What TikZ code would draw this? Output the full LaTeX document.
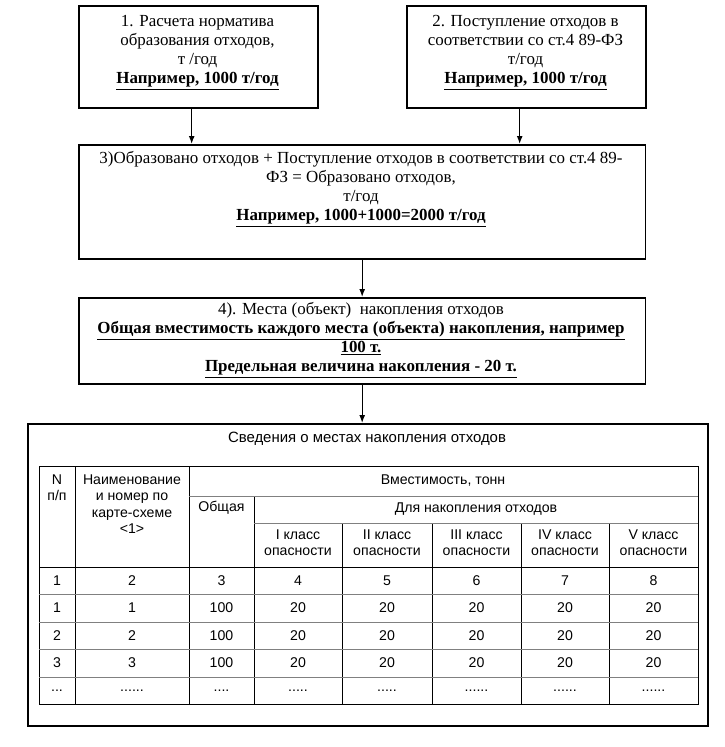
\documentclass[tikz,border=0pt]{standalone}
\usepackage{fontspec}
\setmainfont{Liberation Serif}
\newfontfamily\arialfont{Liberation Sans}
\usetikzlibrary{arrows.meta}

\begin{document}
\begin{tikzpicture}[x=0.75pt, y=-0.75pt,
	box/.style={draw, line width=1.3pt, anchor=north west, inner sep=0pt},
	txt/.style={align=center, inner sep=0pt, font=\fontsize{12.7}{14.25}\selectfont},
	cell/.style={align=center, inner sep=0pt, font=\arialfont\fontsize{10.6}{12.2}\selectfont},
	arr/.style={line width=1pt, -{Latex[length=6pt,width=4.5pt]}}]
	\useasboundingbox (0,0) rectangle (725,747);
	% boxes
	\node[box, minimum width=179.25pt, minimum height=76.5pt] (b1) at (78,5) {};
	\node[box, minimum width=179.25pt, minimum height=76.5pt] (b2) at (406,5) {};
	\node[box, minimum width=425pt, minimum height=85.5pt] (b3) at (78,144) {};
	\node[box, minimum width=425pt, minimum height=64.5pt] (b4) at (78,297) {};
	\node[box, line width=1.2pt, minimum width=510pt, minimum height=226.5pt] (tab) at (27,423) {};
	\node[txt] (t1) at (197.5,53) {1. Расчета норматива\\образования отходов,\\т /год\\\underline{\textbf{Например, 1000 т/год}}};
	\node[txt] (t2) at (525.5,53) {2. Поступление отходов в\\соответствии со ст.4 89-ФЗ\\т/год\\\underline{\textbf{Например, 1000 т/год}}};
	\node[txt] (t3) at (361,189) {3)Образовано отходов + Поступление отходов в соответствии со ст.4 89-\\ФЗ = Образовано отходов,\\т/год\\\underline{\textbf{Например, 1000+1000=2000 т/год}}};
	\node[txt] (t4) at (361,340) {4). Места (объект)\ \ накопления отходов\\\underline{\textbf{Общая вместимость каждого места (объекта) накопления, например}}\\\underline{\textbf{100 т.}}\\\underline{\textbf{Предельная величина накопления - 20 т.}}};
	% arrows
	\draw[arr] ([xshift=-5pt]b1.south) -- ([xshift=-5pt]b1.south |- b3.north);
	\draw[arr] ([xshift=-5pt]b2.south) -- ([xshift=-5pt]b2.south |- b3.north);
	\draw[arr] (b3.south) -- (b4.north);
	\draw[arr] (b4.south) -- (b4.south |- tab.north);
	% table
	\node[cell, font=\arialfont\fontsize{11.2}{12}\selectfont] (title) at (367,439) {Сведения о местах накопления отходов};
	\draw[line width=0.7pt] (39,466) rectangle (698,704);
	\foreach \x in {75,189} \draw[line width=0.6pt] (\x,466) -- (\x,704);
	\draw[line width=0.6pt] (254,496) -- (254,704);
	\foreach \x in {342,432,521,609} \draw[line width=0.6pt] (\x,523) -- (\x,704);
	\draw[gray, line width=0.6pt] (189,496) -- (698,496);
	\draw[gray, line width=0.6pt] (254,523) -- (698,523);
	\draw[line width=0.7pt] (39,567) -- (698,567);
	\foreach \y in {594,622,649,677} \draw[gray, line width=0.6pt] (39,\y) -- (698,\y);
	\node[cell] (hnum) at (57,488) {N\\п/п};
	\node[cell] (hname) at (132,504) {Наименование\\и номер по\\карте-схеме\\<1>};
	\node[cell] (hcap) at (443,481) {Вместимость, тонн};
	\node[cell] (htot) at (221.5,508) {Общая};
	\node[cell] (hacc) at (476,509) {Для накопления отходов};
	\foreach \x/\k in {298/I,387/II,476.5/III,565/IV,653.5/V}
		\node[cell] (k\k) at (\x,543) {\k\ класс\\опасности};
	\foreach \x/\t [count=\i] in {57/1,132/2,221.5/3,298/4,387/5,476.5/6,565/7,653.5/8}
		\node[cell] (n\i) at (\x,580.5) {\t};
	\foreach \r/\y in {1/608,2/635.5,3/663} {
		\node[cell] (p\r) at (57,\y) {\r};
		\node[cell] (m\r) at (132,\y) {\r};
		\node[cell] (o\r) at (221.5,\y) {100};
		\foreach \x [count=\k] in {298,387,476.5,565,653.5}
			\node[cell] (v\r-\k) at (\x,\y) {20};
	}
	% last row
	\node[cell] (d1) at (57,690.5) {...};
	\node[cell] (d2) at (132,690.5) {......};
	\node[cell] (d3) at (221.5,690.5) {....};
	\node[cell] (d4) at (298,690.5) {.....};
	\node[cell] (d5) at (387,690.5) {.....};
	\node[cell] (d6) at (476.5,690.5) {......};
	\node[cell] (d7) at (565,690.5) {......};
	\node[cell] (d8) at (653.5,690.5) {......};
\end{tikzpicture}
\end{document}
